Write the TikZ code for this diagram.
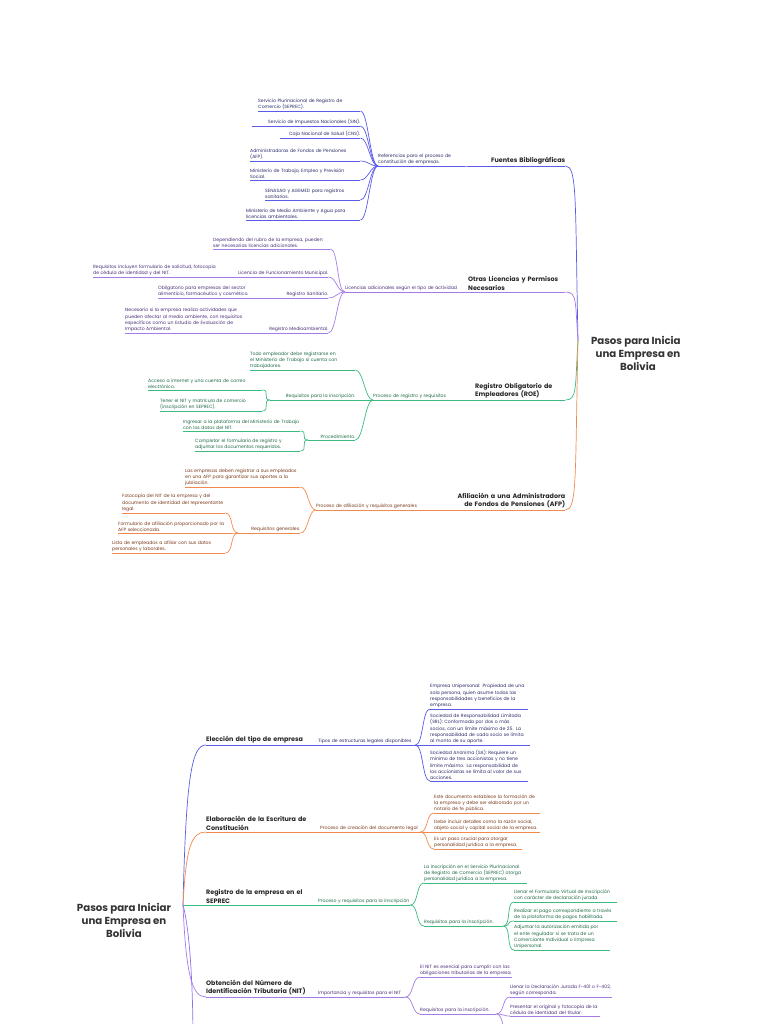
\documentclass[tikz,border=0pt]{standalone}
\usepackage{fontspec}
\setmainfont{Poppins}
\newcommand\nohy{\hyphenpenalty=10000\relax\exhyphenpenalty=10000\relax}
\definecolor{B}{HTML}{5B5BEA}\definecolor{Bt}{HTML}{2B2B6B}
\definecolor{P}{HTML}{A57BE8}\definecolor{Pt}{HTML}{4B2F7A}
\definecolor{G}{HTML}{3DBB7E}\definecolor{Gt}{HTML}{1F6B45}
\definecolor{O}{HTML}{F28A4E}\definecolor{Ot}{HTML}{7A3A1C}
\tikzset{
 lf/.style={inner xsep=0pt,inner ysep=1.2pt,font=\fontsize{4.6}{6.2}\selectfont\nohy,align=left},
 mn/.style={inner xsep=0pt,inner ysep=1.6pt,font=\fontsize{6.4}{8.4}\selectfont\bfseries\nohy,text=black!85,align=left},
 ul/.style={line width=0.7pt},
 rt/.style={font=\fontsize{10.2}{13}\selectfont\bfseries,text=black!80,align=center}
}
\newcommand\lfn[7][align=left]{%
 \pgfmathsetmacro\tw{#5-#4}%
 \node[lf,#1,text=#3t,text width=\tw pt,anchor=south west] (#2) at (#4,#6) {#7};
 \draw[#3,ul] (#2.south west) -- (#2.south east);}
\newcommand\mnn[7][align=left]{%
 \pgfmathsetmacro\tw{#5-#4}%
 \node[mn,#1,text width=\tw pt,anchor=south west] (#2) at (#4,#6) {#7};
 \draw[#3,ul] (#2.south west) -- (#2.south east);}
\newcommand\connL[3]{\draw[#1,ul] (#2.south east) .. controls +(8,0) and +(-8,0) .. (#3);}
\newcommand\connR[3]{\draw[#1,ul] (#2) .. controls +(8,0) and +(-8,0) .. (#3.south west);}
\begin{document}
\begin{tikzpicture}[x=1pt,y=-1pt]
\useasboundingbox (0,0) rectangle (768,1024);
\fill[white] (0,0) rectangle (768,1024);
\begin{scope}
\clip (75,85) rectangle (680,555);
\node[rt] (root) at (638,353) {Pasos para Iniciar\\una Empresa en\\Bolivia};
\coordinate (jr) at (578,340);
\mnn[align=right]{F}{B}{470}{565}{166}{Fuentes Bibliográficas}
\lfn{Ref}{B}{378}{465}{166}{Referencias para el proceso de constitución de empresas.}
\draw[B,ul] (Ref.south west) -- (Ref.south east) -- (F.south west);
\lfn{r1}{B}{258}{360}{111}{Servicio Plurinacional de Registro de Comercio (SEPREC).}
\lfn[align=right]{r2}{B}{252}{360}{126}{Servicio de Impuestos Nacionales (SIN).}
\lfn[align=right]{r3}{B}{280}{360}{138}{Caja Nacional de Salud (CNS).}
\lfn{r4}{B}{250}{360}{161}{Administradoras de Fondos de Pensiones (AFP).}
\lfn{r5}{B}{250}{360}{180}{Ministerio de Trabajo, Empleo y Previsión Social.}
\lfn{r6}{B}{265}{360}{200}{SENASAG y AGEMED para registros sanitarios.}
\lfn{r7}{B}{246}{360}{220}{Ministerio de Medio Ambiente y Agua para licencias ambientales.}
\foreach \r in {r1,r2,r3,r4,r5,r6,r7}{\connL{B}{\r}{Ref.south west}}
\draw[B,ul] (F.south east) .. controls +(12,0) and +(-3,-140) .. (jr);
\mnn{Ot}{P}{468}{565}{292}{Otras Licencias y Permisos Necesarios}
\lfn{Lic}{P}{345}{460}{292}{Licencias adicionales según el tipo de actividad}
\draw[P,ul] (Lic.south east) -- (Ot.south west);
\lfn{l1}{P}{213}{330}{249}{Dependiendo del rubro de la empresa, pueden ser necesarias licencias adicionales.}
\lfn[align=right]{l2}{P}{222}{328}{277}{Licencia de Funcionamiento Municipal.}
\lfn{l2a}{P}{93}{222}{277}{Requisitos incluyen formulario de solicitud, fotocopia de cédula de identidad y del NIT.}
\lfn[align=right]{l3}{P}{262}{328}{298}{Registro Sanitario.}
\lfn{l3a}{P}{158}{262}{298}{Obligatorio para empresas del sector alimenticio, farmacéutico y cosmético.}
\lfn[align=right]{l4}{P}{252}{328}{333}{Registro Medioambiental.}
\lfn{l4a}{P}{125}{252}{333}{Necesario si la empresa realiza actividades que pueden afectar al medio ambiente, con requisitos específicos como un Estudio de Evaluación de Impacto Ambiental.}
\foreach \r in {l1,l2,l3,l4}{\connL{P}{\r}{Lic.south west}}
\draw[P,ul] (Ot.south east) .. controls +(12,0) and +(-3,-38) .. (jr);
\mnn{ROE}{G}{475}{565}{400}{Registro Obligatorio de Empleadores (ROE)}
\lfn{PR}{G}{373}{465}{400}{Proceso de registro y requisitos}
\draw[G,ul] (PR.south east) -- (ROE.south west);
\lfn{g1}{G}{250}{355}{370}{Todo empleador debe registrarse en el Ministerio de Trabajo si cuenta con trabajadores.}
\lfn[align=right]{g2}{G}{270}{355}{400}{Requisitos para la inscripción.}
\lfn{g2a}{G}{148}{262}{390}{Acceso a internet y una cuenta de correo electrónico.}
\lfn{g2b}{G}{160}{262}{411}{Tener el NIT y matrícula de comercio (inscripción en SEPREC).}
\lfn[align=right]{g3}{G}{308}{355}{440}{Procedimiento.}
\lfn{g3a}{G}{183}{300}{431}{Ingresar a la plataforma del Ministerio de Trabajo con los datos del NIT.}
\lfn{g3b}{G}{195}{300}{451}{Completar el formulario de registro y adjuntar los documentos requeridos.}
\foreach \r in {g1,g2,g3}{\connL{G}{\r}{PR.south west}}
\foreach \r in {g2a,g2b}{\connL{G}{\r}{g2.south west}}
\foreach \r in {g3a,g3b}{\connL{G}{\r}{g3.south west}}
\draw[G,ul] (ROE.south east) .. controls +(12,0) and +(-3,48) .. (jr);
\mnn[align=right]{AFP}{O}{448}{565}{510}{Afiliación a una Administradora de Fondos de Pensiones (AFP)}
\lfn{PA}{O}{316}{446}{510}{Proceso de afiliación y requisitos generales}
\draw[O,ul] (PA.south east) -- (AFP.south west);
\lfn{o1}{O}{185}{300}{487}{Las empresas deben registrar a sus empleados en una AFP para garantizar sus aportes a la jubilación.}
\lfn[align=right]{o2}{O}{238}{300}{533}{Requisitos generales.}
\lfn{o2a}{O}{122}{225}{513}{Fotocopia del NIT de la empresa y del documento de identidad del representante legal.}
\lfn{o2b}{O}{118}{230}{533}{Formulario de afiliación proporcionado por la AFP seleccionada.}
\lfn{o2c}{O}{112}{225}{553}{Lista de empleados a afiliar con sus datos personales y laborales.}
\foreach \r in {o1,o2}{\connL{O}{\r}{PA.south west}}
\foreach \r in {o2a,o2b,o2c}{\connL{O}{\r}{o2.south west}}
\draw[O,ul] (AFP.south east) .. controls +(12,0) and +(-3,136) .. (jr);
\end{scope}
\begin{scope}
\clip (75,675) rectangle (680,1024);
\node[rt] (root2) at (124,920) {Pasos para Iniciar\\una Empresa en\\Bolivia};
\coordinate (j2) at (183,905);
\coordinate (down) at (193,1040);
\mnn{El}{B}{206}{314}{745}{Elección del tipo de empresa}
\lfn{Ti}{B}{318}{415}{745}{Tipos de estructuras legales disponibles}
\draw[B,ul] (El.south east) -- (Ti.south west);
\lfn{e1}{B}{430}{528}{709}{Empresa Unipersonal: Propiedad de una sola persona, quien asume todas las responsabilidades y beneficios de la empresa.}
\lfn{e2}{B}{430}{530}{745}{Sociedad de Responsabilidad Limitada (SRL): Conformada por dos o más socios, con un límite máximo de 25. La responsabilidad de cada socio se limita al monto de su aporte.}
\lfn{e3}{B}{430}{528}{781}{Sociedad Anónima (SA): Requiere un mínimo de tres accionistas y no tiene límite máximo. La responsabilidad de los accionistas se limita al valor de sus acciones.}
\foreach \r in {e1,e2,e3}{\connR{B}{Ti.south east}{\r}}
\draw[B,ul] (j2) .. controls +(3,-130) and +(-14,0) .. (El.south west);
\mnn{Ela}{O}{206}{316}{832}{Elaboración de la Escritura de Constitución}
\lfn{Pc}{O}{320}{420}{832}{Proceso de creación del documento legal}
\draw[O,ul] (Ela.south east) -- (Pc.south west);
\lfn{b1}{O}{434}{540}{813}{Este documento establece la formación de la empresa y debe ser elaborado por un notario de fe pública.}
\lfn{b2}{O}{434}{540}{832}{Debe incluir detalles como la razón social, objeto social y capital social de la empresa.}
\lfn{b3}{O}{434}{522}{849}{Es un paso crucial para otorgar personalidad jurídica a la empresa.}
\foreach \r in {b1,b2,b3}{\connR{O}{Pc.south east}{\r}}
\draw[O,ul] (j2) .. controls +(3,-60) and +(-14,0) .. (Ela.south west);
\mnn{Se}{G}{206}{314}{905}{Registro de la empresa en el SEPREC}
\lfn{Ps}{G}{318}{410}{905}{Proceso y requisitos para la inscripción}
\draw[G,ul] (Se.south east) -- (Ps.south west);
\lfn{s1}{G}{424}{527}{883}{La inscripción en el Servicio Plurinacional de Registro de Comercio (SEPREC) otorga personalidad jurídica a la empresa.}
\lfn{s2}{G}{424}{503}{926}{Requisitos para la inscripción.}
\lfn{s2a}{G}{514}{617}{902}{Llenar el Formulario Virtual de Inscripción con carácter de declaración jurada.}
\lfn{s2b}{G}{514}{617}{921}{Realizar el pago correspondiente a través de la plataforma de pagos habilitada.}
\lfn{s2c}{G}{514}{610}{950}{Adjuntar la autorización emitida por el ente regulador si se trata de un Comerciante Individual o Empresa Unipersonal.}
\foreach \r in {s1,s2}{\connR{G}{Ps.south east}{\r}}
\foreach \r in {s2a,s2b,s2c}{\connR{G}{s2.south east}{\r}}
\draw[G,ul] (j2) -- (Se.south west);
\mnn{Ni}{P}{206}{314}{997}{Obtención del Número de Identificación Tributaria (NIT)}
\lfn{Pn}{P}{318}{405}{997}{Importancia y requisitos para el NIT}
\draw[P,ul] (Ni.south east) -- (Pn.south west);
\lfn{n1}{P}{420}{512}{977}{El NIT es esencial para cumplir con las obligaciones tributarias de la empresa.}
\lfn{n2}{P}{420}{496}{1014}{Requisitos para la inscripción.}
\lfn{n2a}{P}{510}{612}{997}{Llenar la Declaración Jurada F-401 o F-402, según corresponda.}
\lfn{n2b}{P}{510}{600}{1016}{Presentar el original y fotocopia de la cédula de identidad del titular.}
\lfn{n2c}{P}{510}{610}{1037}{Proporcionar una fotocopia de la última factura de luz del domicilio fiscal.}
\foreach \r in {n1,n2}{\connR{P}{Pn.south east}{\r}}
\foreach \r in {n2a,n2b,n2c}{\connR{P}{n2.south east}{\r}}
\draw[P,ul] (j2) .. controls +(3,70) and +(-14,0) .. (Ni.south west);
\draw[P!70!B,ul] (j2) .. controls +(8,30) and +(0,-40) .. (down);
\end{scope}
\end{tikzpicture}
\end{document}
